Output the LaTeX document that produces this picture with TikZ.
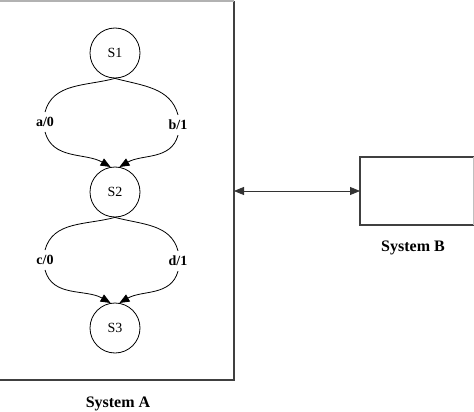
\documentclass[tikz,border=0pt]{standalone}
\usepackage{fontspec}
\setmainfont{Liberation Serif}
\usetikzlibrary{arrows.meta, positioning}

\tikzset{
  state/.style={draw, circle, minimum size=50pt, inner sep=0pt, line width=0.8pt, font=\fontsize{14}{16}\selectfont},
  edgelbl/.style={inner sep=5pt, font=\fontsize{14}{16}\selectfont\bfseries},
  trans/.style={line width=0.8pt, black},
  transarrow/.style={trans, -{Triangle[length=10pt, width=8pt]}},
  sysbox/.style={draw=black!75, line width=1.2pt},
  syslbl/.style={font=\fontsize{16}{18}\selectfont\bfseries}
}

\begin{document}
\begin{tikzpicture}[x=1pt, y=-1pt]
  \useasboundingbox (0,0) rectangle (474,412);
  \clip (0,0) rectangle (474,412);

  % --- System A ---
  \draw[sysbox] (234,1) -- (234,380) -- (-5,380);
  \draw[draw=black!30, line width=1.2pt] (-5,1) -- (234,1);
  \node[syslbl] (sysa) at (118,404) {System A};

  % states
  \node[state] (s1) at (115,53) {S1};
  \node[state] (s2) at (115,192) {S2};
  \node[state] (s3) at (115,328) {S3};

  % transition labels
  \node[edgelbl] (la) at (45,122) {a/0};
  \node[edgelbl] (lb) at (178,125) {b/1};
  \node[edgelbl] (lc) at (45,260) {c/0};
  \node[edgelbl] (ld) at (178,261) {d/1};

  % S1 -> S2
  \draw[trans] (s1.south) to[out=195, in=75] (la.north);
  \draw[transarrow] (la.south) to[out=-75, in=150] (s2.100);
  \draw[trans] (s1.south) to[out=-15, in=105] (lb.north);
  \draw[transarrow] (lb.south) to[out=-105, in=30] (s2.80);

  % S2 -> S3
  \draw[trans] (s2.south) to[out=195, in=75] (lc.north);
  \draw[transarrow] (lc.south) to[out=-75, in=150] (s3.100);
  \draw[trans] (s2.south) to[out=-15, in=105] (ld.north);
  \draw[transarrow] (ld.south) to[out=-105, in=30] (s3.80);

  % --- System B ---
  \draw[sysbox] (474,157) -- (360,157) -- (360,225) -- (474,225);
  \draw[draw=black!25, line width=1.2pt] (473.4,157) -- (473.4,225);
  \coordinate (bw) at (360,191);
  \coordinate (ae) at (234,191);
  \node[syslbl] (sysb) at (413,248) {System B};

  \draw[thick, black!80, {Triangle[length=10pt, width=8pt]}-{Triangle[length=10pt, width=8pt]}] (ae) -- (bw);
\end{tikzpicture}
\end{document}
